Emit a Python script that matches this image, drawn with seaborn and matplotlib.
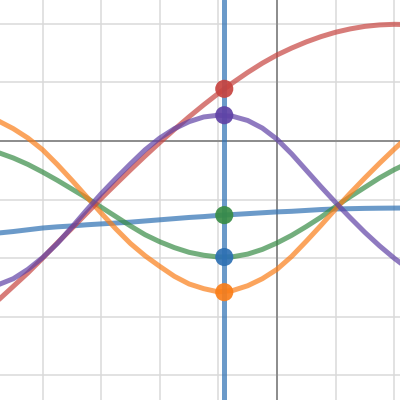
import numpy as np
import pandas as pd
import matplotlib
matplotlib.use("Agg")
import matplotlib.pyplot as plt
import seaborn as sns

# sample positions along x (graph units)
x_pts = [-4.75, -4.5, -4.25, -4.0, -3.75, -3.5, -3.25, -3.0, -2.75, -2.5,
         -2.25, -2.0, -1.75, -1.5, -1.25, -1.0, -0.75, -0.5, -0.25, 0.0,
         0.25, 0.5, 0.75, 1.0, 1.25, 1.5, 1.75, 2.0, 2.25]

red_y = [-2.71, -2.48, -2.25, -2.00, -1.74, -1.49, -1.235, -0.98, -0.735, -0.492,
         -0.255, -0.025, 0.198, 0.413, 0.618, 0.813, 0.998, 1.170, 1.328, 1.468,
         1.586, 1.691, 1.781, 1.856, 1.913, 1.956, 1.981, 1.991, 1.986]

purple_y = [-2.45, -2.35, -2.19, -1.99, -1.75, -1.47, -1.18, -0.90, -0.64, -0.39,
            -0.15, 0.05, 0.21, 0.33, 0.41, 0.44, 0.42, 0.35, 0.22, 0.03,
            -0.22, -0.50, -0.78, -1.05, -1.31, -1.56, -1.79, -2.00, -2.19]

green_y = [-0.20, -0.29, -0.40, -0.53, -0.67, -0.82, -0.97, -1.13, -1.29, -1.45,
           -1.60, -1.72, -1.82, -1.90, -1.95, -1.98, -1.975, -1.93, -1.85, -1.74,
           -1.61, -1.46, -1.30, -1.12, -0.95, -0.79, -0.63, -0.49, -0.37]

orange_y = [0.34, 0.21, 0.05, -0.15, -0.40, -0.67, -0.95, -1.23, -1.50, -1.75,
            -1.96, -2.14, -2.31, -2.44, -2.52, -2.575, -2.55, -2.47, -2.35, -2.19,
            -1.97, -1.71, -1.44, -1.16, -0.89, -0.63, -0.38, -0.14, 0.09]

blue_y = [-1.57, -1.545, -1.515, -1.485, -1.465, -1.45, -1.43, -1.415, -1.40, -1.385,
          -1.365, -1.345, -1.325, -1.305, -1.29, -1.27, -1.255, -1.24, -1.225, -1.21,
          -1.20, -1.185, -1.17, -1.16, -1.155, -1.15, -1.147, -1.145, -1.143]

# vertical line and the points sitting on it
x_mark = -0.9
dot_names = ["red", "purple", "green", "blue", "orange"]
dot_y = [0.89, 0.44, -1.265, -1.98, -2.58]

colors = {"red": "#c74440", "purple": "#6042a6", "green": "#388c46",
          "blue": "#2d70b3", "orange": "#fa7e19"}

curves = pd.DataFrame({"x": x_pts, "blue": blue_y, "green": green_y,
                       "orange": orange_y, "red": red_y, "purple": purple_y})

sns.set_style("white")
fig = plt.figure(figsize=(4, 4), dpi=100)
ax = fig.add_axes([0, 0, 1, 1])

xmin, xmax = -4.727, 2.099
ymin, ymax = -4.420, 2.406

# grid
for gx in range(-4, 3):
    ax.axvline(gx, color="#dadada", lw=1.1, zorder=0)
for gy in range(-4, 3):
    ax.axhline(gy, color="#dadada", lw=1.1, zorder=0)
ax.axvline(0, color="#8c8c8c", lw=1.4, zorder=1)
ax.axhline(0, color="#8c8c8c", lw=1.4, zorder=1)

for name in ["blue", "green", "orange", "red", "purple"]:
    sns.lineplot(data=curves, x="x", y=name, color=colors[name], lw=3.6,
                 alpha=0.7, ax=ax, legend=False, zorder=3)

ax.axvline(x_mark, color=colors["blue"], lw=3.6, alpha=0.7, zorder=4)

dots = pd.DataFrame({"x": [x_mark] * len(dot_y), "y": dot_y, "c": dot_names})
sns.scatterplot(data=dots, x="x", y="y", hue="c", palette=colors, s=170,
                linewidth=0, alpha=0.92, ax=ax, legend=False, zorder=5)

ax.set_xlim(xmin, xmax)
ax.set_ylim(ymin, ymax)
ax.set_xlabel("")
ax.set_ylabel("")
ax.set_xticks([])
ax.set_yticks([])
for s in ax.spines.values():
    s.set_visible(False)

fig.savefig("out.png", dpi=100)
